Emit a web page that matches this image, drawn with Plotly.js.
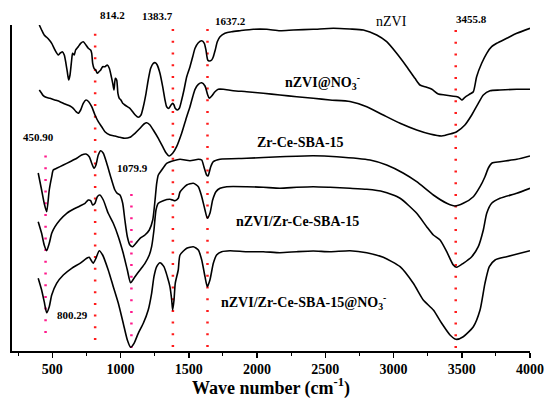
<!DOCTYPE html>
<html>
<head>
<meta charset="utf-8">
<script src="https://cdn.plot.ly/plotly-3.0.1.min.js"></script>
<style>html,body{margin:0;padding:0;background:#fff;}#chart{width:550px;height:399px;}</style>
</head>
<body>
<div id="chart"></div>
<script>
// ---- data (wavenumber in cm-1, transmittance in arbitrary offset units) ----
const names = ["nZVI", "nZVI@NO3-", "Zr-Ce-SBA-15", "nZVI/Zr-Ce-SBA-15", "nZVI/Zr-Ce-SBA-15@NO3-"];

const wn1 = [405,422,441,459,478,496,520,544,556,573,588,600,610,620,630,642,649,661,671,690,708,727,747,764,781,789,796,806,818,830,842,855,869,886,903,918,930,943,952,962,972,981,991,1003,1016,1032,1050,1069,1089,1108,1130,1150,1167,1187,1203,1221,1240,1255,1269,1289,1309,1326,1338,1355,1370,1382,1392,1401,1416,1431,1448,1465,1485,1509,1529,1546,1570,1595,1614,1626,1639,1650,1668,1680,1694,1709,1729,1765,1814,1875,1973,2071,2168,2266,2412,2559,2681,2779,2877,2950,3023,3097,3157,3194,3243,3281,3328,3377,3426,3467,3487,3501,3523,3560,3585,3609,3646,3683,3719,3756,3829,3903,4000];
const t1 = [335,330,325,322.7,320,316.7,310,305,306.7,308.3,305,296.7,288.3,280,285,300,306.7,305,310,313.3,316.7,318.3,315,311.7,310,306.7,296.7,291.7,290,286.7,288.3,290,293.3,293.3,295,291.7,285,276.7,270,281.7,280,266.7,261.7,260,256.7,255,253.3,251.7,248.3,245,242.7,245,253.3,266.7,280,291.7,296.7,297.3,295,286.7,273.3,260,253.3,251.7,255,256.7,255,251.7,250,251.7,260,270,283.3,293.3,303.3,311.7,317.3,319.3,316.7,310,300,299,300,303.3,310,318.3,323.3,326.7,328.3,329.3,330.7,330.7,329.3,330,330.7,331.7,331,330,325,318.3,306.7,293.3,281.7,275,272.7,270.7,266,265,264,263.3,261.7,260,262.7,266,268.3,283.3,296.7,306.7,313.3,316.7,321.7,326.7,331.7];

const wn2 = [405,422,434,454,483,520,556,593,630,654,674,690,708,727,747,767,789,813,837,862,886,923,959,996,1032,1069,1106,1143,1172,1192,1216,1240,1277,1309,1333,1357,1382,1411,1448,1485,1509,1529,1546,1570,1595,1619,1639,1650,1668,1692,1716,1753,1826,1924,2046,2168,2291,2412,2535,2681,2804,2925,3048,3170,3267,3353,3414,3463,3523,3573,3621,3658,3707,3780,3903,4000];
const t2 = [270,266.7,264.3,262.7,261.7,260,258.3,256,254,251.7,248.3,246.7,250,256.7,260,258.3,253.3,245,238.3,233.3,228.3,225,224,222.7,221.7,222.7,226.7,231.7,236,237.3,235,230,221.7,213.3,207.3,204,206.7,213.3,226.7,243.3,253.3,263.3,270.7,275.7,277.3,274,265,261.7,264,268.3,270.7,270.7,269.3,268.3,266.7,265,263.3,261.7,260,258.5,253.3,245,236.7,230,226,224,226,228.3,235,245,256.7,265,269.3,270,270.7,270.7];

const wn3 = [397,422,441,459,478,496,507,532,581,630,679,715,747,771,789,806,820,837,855,874,899,935,959,976,996,1016,1032,1050,1069,1089,1113,1143,1179,1211,1236,1253,1265,1277,1302,1338,1387,1436,1509,1570,1595,1611,1631,1641,1661,1680,1729,1924,2168,2412,2584,2828,2950,3070,3170,3292,3390,3450,3511,3585,3634,3670,3695,3722,3780,3903,4000];
const t3 = [187,170,156.7,148.3,170,183.3,190,191.7,195,198.3,201.7,205,206,203.3,196.7,191.7,195,205,209.3,206.7,196.7,180,170,166.7,165,156.7,140,123.3,115,113.3,116.7,121.7,125,130,140,160,176.7,185,190,196.7,199.3,200.7,199.3,200.7,200,193.3,185,184,193.3,198.3,200.7,201.7,203.3,204.3,203.3,200,195,187,178.3,165,156.7,154,156.7,163.3,173.3,183.3,192,197,198.3,200.7,204];

const wn4 = [397,422,441,459,478,496,520,556,606,654,703,740,764,781,796,813,830,849,874,910,947,984,1020,1050,1074,1106,1143,1179,1211,1228,1245,1260,1277,1313,1362,1382,1399,1423,1436,1485,1533,1570,1595,1619,1636,1655,1675,1699,1729,1778,1924,2046,2168,2291,2412,2535,2681,2804,2925,3048,3170,3243,3292,3341,3390,3438,3463,3511,3573,3621,3658,3683,3719,3780,3903,4000];
const t4 = [138.3,126.7,115,109.3,116.7,126.7,133.3,140,146.7,150.7,154,156.7,160,159.3,155,156.7,163.3,165,160,146.7,136.7,123.3,106.7,90,77.3,83.3,90,96.7,105,113.3,130,150,156.7,159.3,160.7,160,159.3,161.7,168,175,176.7,173.3,163.3,150,141.7,146.7,160,168.3,171.7,173.3,173.3,172.7,171.7,172.7,173.3,172.7,171.7,170.7,168.3,161.7,146.7,133.3,125,120,108.3,95,92.7,96.7,103.3,113.3,130,146.7,156.7,161.7,166.7,171.7];

const wn5 = [397,422,441,459,478,496,532,581,642,703,752,771,784,800,820,844,869,910,947,984,1020,1050,1074,1099,1130,1167,1203,1228,1245,1265,1289,1318,1343,1362,1375,1382,1392,1401,1423,1436,1485,1533,1570,1595,1619,1636,1655,1680,1704,1741,1802,1924,2046,2168,2291,2412,2535,2681,2804,2925,3048,3145,3218,3292,3353,3414,3458,3511,3585,3634,3670,3702,3744,3829,3927,4000];
const t5 = [81.7,70,58.3,47.3,53.3,65,76.7,85,91.7,96.7,101.7,102.7,100,96.7,101.7,109.3,105,90,73.3,56.7,36.7,20,12.7,16.7,26.7,36.7,50,66.7,83.3,93.3,97.3,93.3,83.3,73.3,60,50,60,76.7,90,105,111.7,113.3,110,100,83.3,73.3,80,96.7,105,108.3,109.3,108.3,108.3,107.3,108.3,109,108.3,109.3,107.3,102.7,93.3,76.7,60,50,36.7,25,20.7,23.3,33.3,50,76.7,93.3,100,103.3,106.7,109.3];

// marked peak positions and their labels
const peaks = [450.90, 814.2, 1079.9, 1383.7, 1637.2, 3455.8];
const peakLabels = ["450.90", "814.2", "1079.9", "1383.7", "1637.2", "3455.8"];
const extraLabel = "800.29";
const tickVals = [500, 1000, 1500, 2000, 2500, 3000, 3500, 4000];

// ---- drawing ----
const FONT = "'Liberation Serif', 'Times New Roman', serif";
const series = [[wn1,t1],[wn2,t2],[wn3,t3],[wn4,t4],[wn5,t5]];
const traces = series.map((s, i) => ({
  x: s[0], y: s[1], name: names[i], type: 'scatter', mode: 'lines',
  line: {color: '#000', width: 1.6, shape: 'spline', smoothing: 0.6},
  hoverinfo: 'skip', showlegend: false
}));

// vertical dotted peak markers (y extents in data units)
const lineSpan = [[27,208],[20,335],[12,175],[13,335],[13,335],[12,332]];
const lineColor = ['#ff1a8c','#ff1a1a','#ff1a8c','#ff1a1a','#ff1a1a','#ff1a1a'];
const shapes = peaks.map((p, i) => ({
  type: 'line', xref: 'x', yref: 'y', x0: p, x1: p, y0: lineSpan[i][0], y1: lineSpan[i][1],
  line: {color: lineColor[i], width: 2.5, dash: '2px,9.7px'}, layer: 'below'
}));

// label anchors: [x (data), y, yref]
const peakPos = [[399,223,'y'],[941,1.0316,'paper'],[1091,192,'y'],[1271,1.0276,'paper'],[1806,1.0138,'paper'],[3575,1.0184,'paper']];
const annotations = peakLabels.map((t, i) => ({
  x: peakPos[i][0], y: peakPos[i][1], xref: 'x', yref: peakPos[i][2], text: '<b>' + t + '</b>',
  xanchor: 'center', yanchor: 'middle',
  showarrow: false, font: {family: FONT, size: 11, color: '#000'}
}));
annotations.push({x: 648, y: 45, xref: 'x', yref: 'y', text: '<b>' + extraLabel + '</b>', xanchor: 'center', yanchor: 'middle', showarrow: false, font: {family: FONT, size: 11, color: '#000'}});
annotations.push({x: 2987, y: 1.0101, xref: 'x', yref: 'paper', text: names[0], xanchor: 'center', yanchor: 'middle', showarrow: false, font: {family: FONT, size: 14, color: '#000'}});
const nameLabelText = [null, '<b>nZVI@NO<sub>3</sub><sup>-</sup></b>', '<b>Zr-Ce-SBA-15</b>', '<b>nZVI/Zr-Ce-SBA-15</b>', '<b>nZVI/Zr-Ce-SBA-15@NO<sub>3</sub><sup>-</sup></b>'];
const namePos = [null, [2483,278.3], [2322,218], [2297,138.3], [2344,58.3]];
for (let i = 1; i < 5; i++) {
  annotations.push({x: namePos[i][0], y: namePos[i][1], xref: 'x', yref: 'y', text: nameLabelText[i],
    xanchor: 'center', yanchor: 'middle',
    showarrow: false, font: {family: FONT, size: 14, color: '#000'}});
}

const layout = {
  width: 550, height: 399,
  margin: {l: 12, r: 20, t: 25, b: 48},
  paper_bgcolor: '#fff', plot_bgcolor: '#fff',
  showlegend: false,
  xaxis: {
    range: [205, 4000], tickvals: tickVals, ticktext: tickVals.map(v => '<b>' + v + '</b>'),
    ticks: 'outside', ticklen: 5, tickwidth: 1.5, tickcolor: '#000',
    minor: {dtick: 250, tick0: 0, ticks: 'outside', ticklen: 3, tickwidth: 1.2, tickcolor: '#000', showgrid: false},
    showline: true, linecolor: '#000', linewidth: 1.6, mirror: false,
    showgrid: false, zeroline: false,
    tickfont: {family: FONT, size: 14, color: '#000'},
    title: {text: '<b>Wave number (cm<sup>-1</sup>)</b>', font: {family: FONT, size: 18, color: '#000'}, standoff: 5}
  },
  yaxis: {
    range: [9, 335], showticklabels: false, ticks: '',
    showline: true, linecolor: '#000', linewidth: 2, showgrid: false, zeroline: false
  },
  shapes: shapes,
  annotations: annotations
};

Plotly.newPlot('chart', traces, layout, {displayModeBar: false, staticPlot: true});
</script>
</body>
</html>
